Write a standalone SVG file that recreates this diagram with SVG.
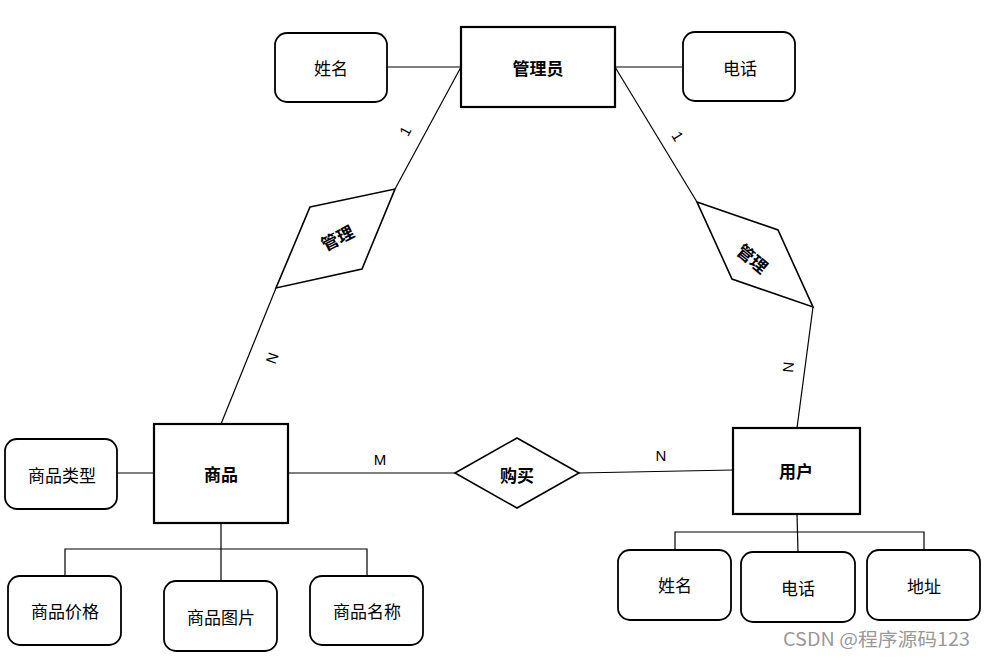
<svg xmlns="http://www.w3.org/2000/svg" width="985" height="658" viewBox="0 0 985 658">
<style>
.ent{fill:#fff;stroke:#000;stroke-width:2.2}
.att{fill:#fff;stroke:#000;stroke-width:1.8}
.rel{fill:#fff;stroke:#000;stroke-width:1.6}
.ln{fill:none;stroke:#000;stroke-width:1.2}
.t{font-family:"Noto Sans CJK SC","Liberation Serif",serif;font-size:17px;text-anchor:middle;dominant-baseline:central;fill:#000}
.b{font-weight:bold}
.c{font-family:"Liberation Sans",Arial,sans-serif;font-size:15px;text-anchor:middle;dominant-baseline:central;fill:#000}
</style>
<rect width="985" height="658" fill="#fff"/>
<g id="connectors">
<line class="ln" x1="387" y1="67" x2="461" y2="67"/>
<line class="ln" x1="615" y1="67" x2="683" y2="67"/>
<line class="ln" x1="461" y1="67" x2="395" y2="189"/>
<line class="ln" x1="276" y1="288" x2="221" y2="424"/>
<line class="ln" x1="615" y1="67" x2="697" y2="202"/>
<line class="ln" x1="813" y1="307" x2="797" y2="428"/>
<line class="ln" x1="117" y1="473" x2="154" y2="473"/>
<line class="ln" x1="288" y1="473" x2="455" y2="473"/>
<line class="ln" x1="579" y1="473" x2="733" y2="470"/>
<polyline class="ln" points="221,523 221,581"/>
<polyline class="ln" points="65,576 65,549 367,549 367,576"/>
<polyline class="ln" points="797,514 798,552"/>
<polyline class="ln" points="675,550 675,532 924,532 924,550"/>
<text class="c" transform="translate(405,131) rotate(-62)">1</text>
<text class="c" transform="translate(678,136) rotate(58)">1</text>
<text class="c" transform="translate(272,358) rotate(-70)">N</text>
<text class="c" transform="translate(788,367) rotate(-85)">N</text>
<text class="c" x="380" y="459">M</text>
<text class="c" x="661" y="455">N</text>
</g>
<g id="admin"><rect class="ent" x="461" y="27" width="154" height="80"/><text class="t b" x="538" y="67">管理员</text></g>
<g id="admin-name"><rect class="att" x="275" y="33" width="112" height="69" rx="12"/><text class="t" x="331" y="67">姓名</text></g>
<g id="admin-phone"><rect class="att" x="683" y="32" width="112" height="69" rx="12"/><text class="t" x="740" y="67">电话</text></g>
<g id="manage-left"><polygon class="rel" points="310,207 395,189 362,269 276,288"/><text class="t b" transform="translate(337,237) rotate(-27)">管理</text></g>
<g id="manage-right"><polygon class="rel" points="697,202 778,230 813,307 732,279"/><text class="t b" transform="translate(753,258) rotate(40)">管理</text></g>
<g id="goods"><rect class="ent" x="154" y="424" width="134" height="99"/><text class="t b" x="221" y="473">商品</text></g>
<g id="goods-type"><rect class="att" x="5" y="439" width="112" height="70" rx="12"/><text class="t" x="62" y="474">商品类型</text></g>
<g id="goods-price"><rect class="att" x="8" y="576" width="113" height="69" rx="12"/><text class="t" x="65" y="610">商品价格</text></g>
<g id="goods-pic"><rect class="att" x="164" y="581" width="113" height="70" rx="12"/><text class="t" x="221" y="616">商品图片</text></g>
<g id="goods-name"><rect class="att" x="310" y="576" width="113" height="69" rx="12"/><text class="t" x="367" y="610">商品名称</text></g>
<g id="buy"><polygon class="rel" points="455,473 517,438 579,473 517,508"/><text class="t b" x="517" y="474">购买</text></g>
<g id="user"><rect class="ent" x="733" y="428" width="127" height="86"/><text class="t b" x="796" y="470">用户</text></g>
<g id="user-name"><rect class="att" x="618" y="550" width="113" height="70" rx="12"/><text class="t" x="675" y="584">姓名</text></g>
<g id="user-phone"><rect class="att" x="741" y="552" width="114" height="70" rx="12"/><text class="t" x="798" y="587">电话</text></g>
<g id="user-addr"><rect class="att" x="867" y="550" width="113" height="70" rx="12"/><text class="t" x="924" y="585">地址</text></g>
<text x="783" y="638" font-family="'Noto Sans CJK SC','Liberation Sans',sans-serif" font-size="18" fill="#999" dominant-baseline="central" textLength="187" lengthAdjust="spacingAndGlyphs">CSDN @程序源码123</text>
</svg>
